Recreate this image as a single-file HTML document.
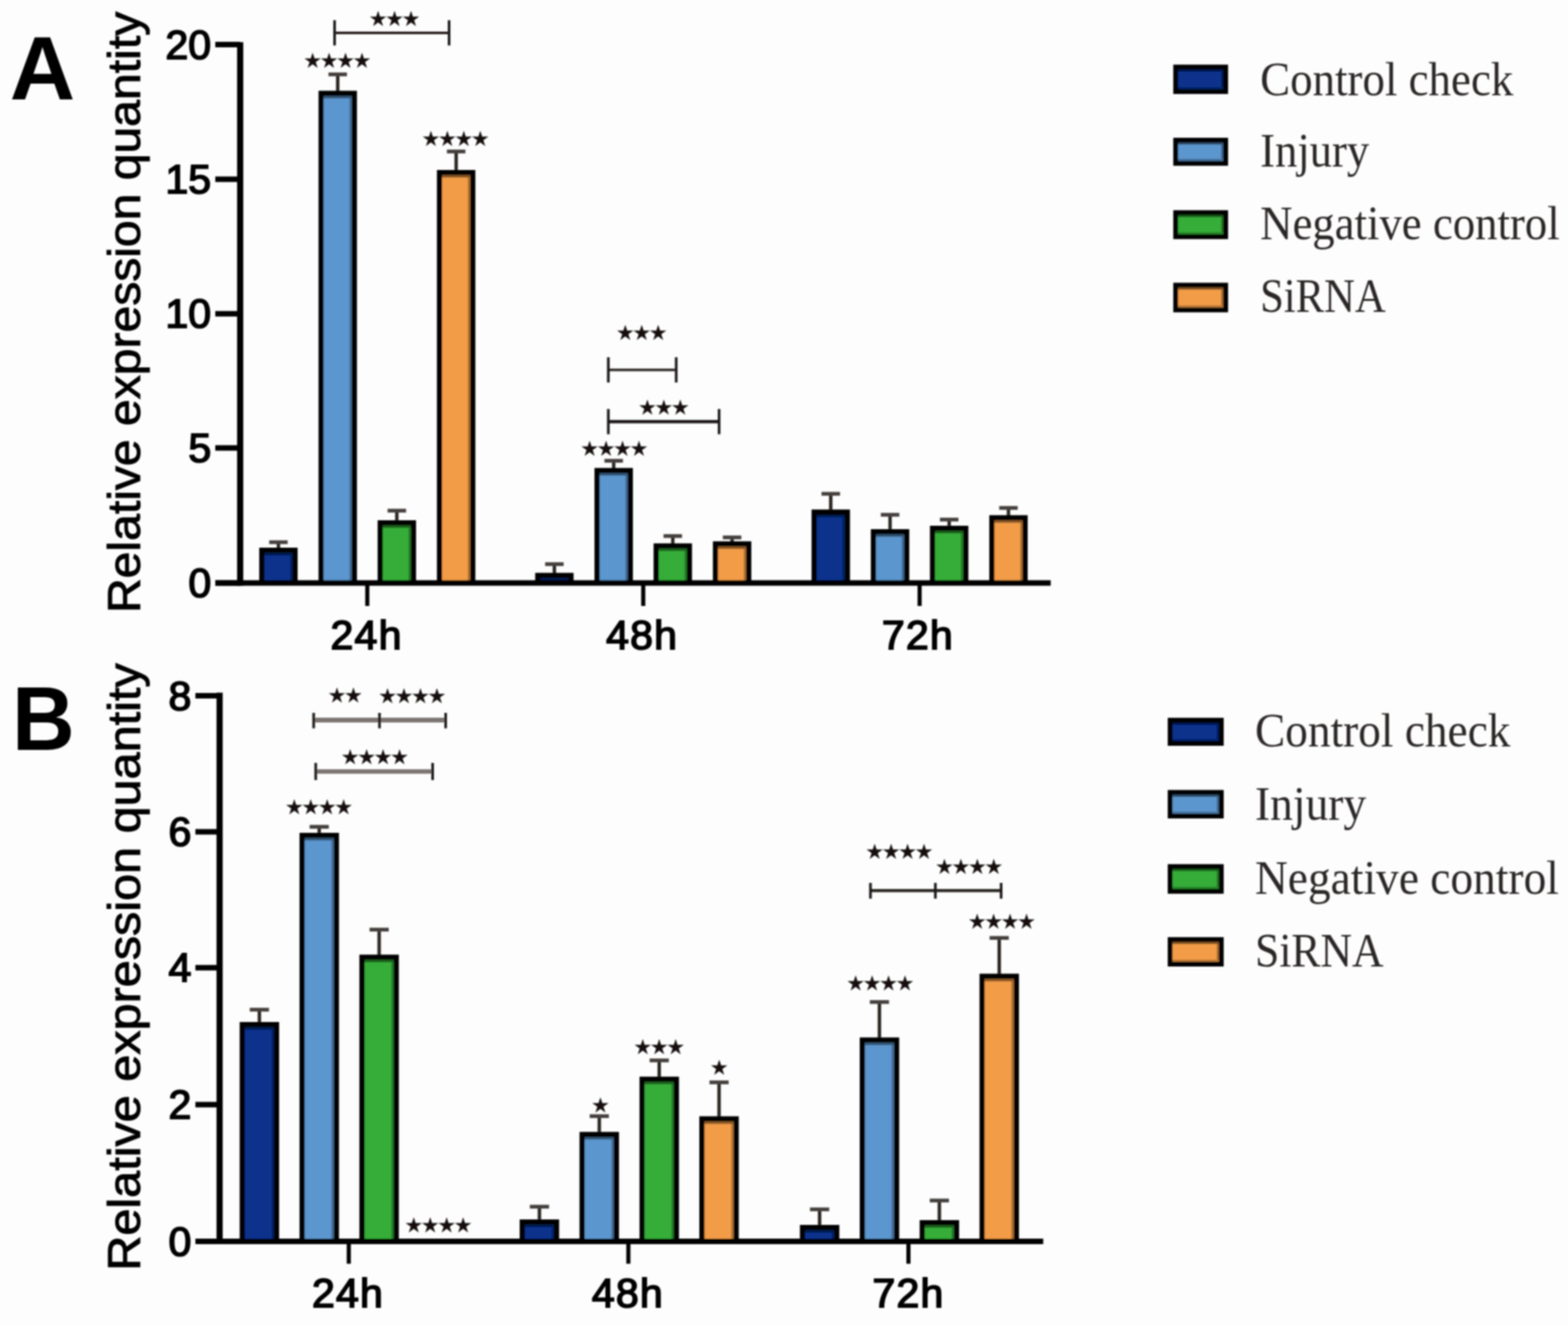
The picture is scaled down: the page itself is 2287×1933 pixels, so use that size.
<!DOCTYPE html>
<html><head><meta charset="utf-8"><title>Relative expression quantity</title>
<style>
html,body{margin:0;padding:0;background:#fdfdfd;}
svg{display:block;}
</style></head>
<body>
<svg width="2287" height="1933" viewBox="0 0 2287 1933">
<defs><filter id="bl" filterUnits="userSpaceOnUse" x="0" y="0" width="2287" height="1933"><feGaussianBlur stdDeviation="1.2"/></filter></defs>
<rect width="2287" height="1933" fill="#fdfdfd"/>
<g id="fig" filter="url(#bl)">
<line x1="350.3" y1="61.5" x2="350.3" y2="854.5" stroke="#060505" stroke-width="9.0"/>
<line x1="314" y1="850.5" x2="350" y2="850.5" stroke="#060505" stroke-width="8.0"/>
<text x="308" y="871.0" text-anchor="end" font-family="'Liberation Sans', Arial, sans-serif" font-size="60" stroke="#000" stroke-width="2.2">0</text>
<line x1="314" y1="653.6" x2="350" y2="653.6" stroke="#060505" stroke-width="8.0"/>
<text x="308" y="674.1" text-anchor="end" font-family="'Liberation Sans', Arial, sans-serif" font-size="60" stroke="#000" stroke-width="2.2">5</text>
<line x1="314" y1="457.8" x2="350" y2="457.8" stroke="#060505" stroke-width="8.0"/>
<text x="308" y="478.3" text-anchor="end" font-family="'Liberation Sans', Arial, sans-serif" font-size="60" stroke="#000" stroke-width="2.2">10</text>
<line x1="314" y1="261.5" x2="350" y2="261.5" stroke="#060505" stroke-width="8.0"/>
<text x="308" y="282.0" text-anchor="end" font-family="'Liberation Sans', Arial, sans-serif" font-size="60" stroke="#000" stroke-width="2.2">15</text>
<line x1="314" y1="65" x2="350" y2="65" stroke="#060505" stroke-width="8.0"/>
<text x="308" y="85.5" text-anchor="end" font-family="'Liberation Sans', Arial, sans-serif" font-size="60" stroke="#000" stroke-width="2.2">20</text>
<line x1="535.7" y1="850.5" x2="535.7" y2="884" stroke="#060505" stroke-width="6"/>
<text x="533.8" y="946.5" text-anchor="middle" font-family="'Liberation Sans', Arial, sans-serif" font-size="60" stroke="#000" stroke-width="2.2" textLength="103.4" lengthAdjust="spacing">24h</text>
<line x1="938.2" y1="850.5" x2="938.2" y2="884" stroke="#060505" stroke-width="6"/>
<text x="935.7" y="946.5" text-anchor="middle" font-family="'Liberation Sans', Arial, sans-serif" font-size="60" stroke="#000" stroke-width="2.2" textLength="103.4" lengthAdjust="spacing">48h</text>
<line x1="1341.3" y1="850.5" x2="1341.3" y2="884" stroke="#060505" stroke-width="6"/>
<text x="1337.9" y="946.5" text-anchor="middle" font-family="'Liberation Sans', Arial, sans-serif" font-size="60" stroke="#000" stroke-width="2.2" textLength="103.4" lengthAdjust="spacing">72h</text>
<line x1="406.1" y1="791" x2="406.1" y2="802" stroke="#2a2624" stroke-width="5"/>
<line x1="392.6" y1="791" x2="419.6" y2="791" stroke="#45403d" stroke-width="5.5"/>
<rect x="378.1" y="799.0" width="56.0" height="51.5" fill="#050101"/>
<rect x="385.6" y="806.5" width="41.0" height="44.0" fill="#07308C"/>
<rect x="385.6" y="806.5" width="41.0" height="3.6" fill="#000" fill-opacity="0.45"/>
<rect x="423.2" y="810.1" width="3.4" height="40.4" fill="#000" fill-opacity="0.3"/>
<line x1="492.6" y1="108.5" x2="492.6" y2="135.4" stroke="#2a2624" stroke-width="5"/>
<line x1="479.1" y1="108.5" x2="506.1" y2="108.5" stroke="#45403d" stroke-width="5.5"/>
<rect x="464.6" y="132.4" width="56.0" height="718.1" fill="#050101"/>
<rect x="472.1" y="139.9" width="41.0" height="710.6" fill="#5B96CE"/>
<rect x="472.1" y="139.9" width="41.0" height="3.6" fill="#000" fill-opacity="0.45"/>
<rect x="509.7" y="143.5" width="3.4" height="707.0" fill="#000" fill-opacity="0.3"/>
<line x1="578.8000000000001" y1="745" x2="578.8000000000001" y2="762" stroke="#2a2624" stroke-width="5"/>
<line x1="565.3000000000001" y1="745" x2="592.3000000000001" y2="745" stroke="#45403d" stroke-width="5.5"/>
<rect x="550.8" y="759.0" width="56.0" height="91.5" fill="#050101"/>
<rect x="558.3" y="766.5" width="41.0" height="84.0" fill="#34AD38"/>
<rect x="558.3" y="766.5" width="41.0" height="3.6" fill="#000" fill-opacity="0.45"/>
<rect x="595.9" y="770.1" width="3.4" height="80.4" fill="#000" fill-opacity="0.3"/>
<line x1="665.3000000000001" y1="221" x2="665.3000000000001" y2="251" stroke="#2a2624" stroke-width="5"/>
<line x1="651.8000000000001" y1="221" x2="678.8000000000001" y2="221" stroke="#45403d" stroke-width="5.5"/>
<rect x="637.3" y="248.0" width="56.0" height="602.5" fill="#050101"/>
<rect x="644.8" y="255.5" width="41.0" height="595.0" fill="#F29C46"/>
<rect x="644.8" y="255.5" width="41.0" height="3.6" fill="#000" fill-opacity="0.45"/>
<rect x="682.4" y="259.1" width="3.4" height="591.4" fill="#000" fill-opacity="0.3"/>
<line x1="808.6" y1="823" x2="808.6" y2="838.7" stroke="#2a2624" stroke-width="5"/>
<line x1="795.1" y1="823" x2="822.1" y2="823" stroke="#45403d" stroke-width="5.5"/>
<rect x="780.6" y="835.7" width="56.0" height="14.8" fill="#050101"/>
<rect x="788.1" y="843.2" width="41.0" height="7.3" fill="#07308C"/>
<rect x="788.1" y="843.2" width="41.0" height="3.6" fill="#000" fill-opacity="0.45"/>
<rect x="825.7" y="846.8" width="3.4" height="3.7" fill="#000" fill-opacity="0.3"/>
<line x1="895.1" y1="672.2" x2="895.1" y2="685.7" stroke="#2a2624" stroke-width="5"/>
<line x1="881.6" y1="672.2" x2="908.6" y2="672.2" stroke="#45403d" stroke-width="5.5"/>
<rect x="867.1" y="682.7" width="56.0" height="167.8" fill="#050101"/>
<rect x="874.6" y="690.2" width="41.0" height="160.3" fill="#5B96CE"/>
<rect x="874.6" y="690.2" width="41.0" height="3.6" fill="#000" fill-opacity="0.45"/>
<rect x="912.2" y="693.8" width="3.4" height="156.7" fill="#000" fill-opacity="0.3"/>
<line x1="981.3000000000001" y1="782" x2="981.3000000000001" y2="795.7" stroke="#2a2624" stroke-width="5"/>
<line x1="967.8000000000001" y1="782" x2="994.8000000000001" y2="782" stroke="#45403d" stroke-width="5.5"/>
<rect x="953.3" y="792.7" width="56.0" height="57.8" fill="#050101"/>
<rect x="960.8" y="800.2" width="41.0" height="50.3" fill="#34AD38"/>
<rect x="960.8" y="800.2" width="41.0" height="3.6" fill="#000" fill-opacity="0.45"/>
<rect x="998.4" y="803.8" width="3.4" height="46.7" fill="#000" fill-opacity="0.3"/>
<line x1="1067.8" y1="784" x2="1067.8" y2="792.7" stroke="#2a2624" stroke-width="5"/>
<line x1="1054.3" y1="784" x2="1081.3" y2="784" stroke="#45403d" stroke-width="5.5"/>
<rect x="1039.8" y="789.7" width="56.0" height="60.8" fill="#050101"/>
<rect x="1047.3" y="797.2" width="41.0" height="53.3" fill="#F29C46"/>
<rect x="1047.3" y="797.2" width="41.0" height="3.6" fill="#000" fill-opacity="0.45"/>
<rect x="1084.9" y="800.8" width="3.4" height="49.7" fill="#000" fill-opacity="0.3"/>
<line x1="1211.7" y1="720.4" x2="1211.7" y2="746.3" stroke="#2a2624" stroke-width="5"/>
<line x1="1198.2" y1="720.4" x2="1225.2" y2="720.4" stroke="#45403d" stroke-width="5.5"/>
<rect x="1183.7" y="743.3" width="56.0" height="107.2" fill="#050101"/>
<rect x="1191.2" y="750.8" width="41.0" height="99.7" fill="#07308C"/>
<rect x="1191.2" y="750.8" width="41.0" height="3.6" fill="#000" fill-opacity="0.45"/>
<rect x="1228.8" y="754.4" width="3.4" height="96.1" fill="#000" fill-opacity="0.3"/>
<line x1="1298.2" y1="751" x2="1298.2" y2="775" stroke="#2a2624" stroke-width="5"/>
<line x1="1284.7" y1="751" x2="1311.7" y2="751" stroke="#45403d" stroke-width="5.5"/>
<rect x="1270.2" y="772.0" width="56.0" height="78.5" fill="#050101"/>
<rect x="1277.7" y="779.5" width="41.0" height="71.0" fill="#5B96CE"/>
<rect x="1277.7" y="779.5" width="41.0" height="3.6" fill="#000" fill-opacity="0.45"/>
<rect x="1315.3" y="783.1" width="3.4" height="67.4" fill="#000" fill-opacity="0.3"/>
<line x1="1384.3999999999999" y1="758" x2="1384.3999999999999" y2="770" stroke="#2a2624" stroke-width="5"/>
<line x1="1370.8999999999999" y1="758" x2="1397.8999999999999" y2="758" stroke="#45403d" stroke-width="5.5"/>
<rect x="1356.4" y="767.0" width="56.0" height="83.5" fill="#050101"/>
<rect x="1363.9" y="774.5" width="41.0" height="76.0" fill="#34AD38"/>
<rect x="1363.9" y="774.5" width="41.0" height="3.6" fill="#000" fill-opacity="0.45"/>
<rect x="1401.5" y="778.1" width="3.4" height="72.4" fill="#000" fill-opacity="0.3"/>
<line x1="1470.8999999999999" y1="741" x2="1470.8999999999999" y2="754.6" stroke="#2a2624" stroke-width="5"/>
<line x1="1457.3999999999999" y1="741" x2="1484.3999999999999" y2="741" stroke="#45403d" stroke-width="5.5"/>
<rect x="1442.9" y="751.6" width="56.0" height="98.9" fill="#050101"/>
<rect x="1450.4" y="759.1" width="41.0" height="91.4" fill="#F29C46"/>
<rect x="1450.4" y="759.1" width="41.0" height="3.6" fill="#000" fill-opacity="0.45"/>
<rect x="1488.0" y="762.7" width="3.4" height="87.8" fill="#000" fill-opacity="0.3"/>
<line x1="314" y1="850.5" x2="1532.5" y2="850.5" stroke="#060505" stroke-width="8.0"/>
<line x1="488" y1="48" x2="655" y2="48" stroke="#1a1616" stroke-width="3.6"/>
<line x1="488" y1="29.5" x2="488" y2="66.3" stroke="#1a1616" stroke-width="3.8"/>
<line x1="655" y1="29.5" x2="655" y2="66.3" stroke="#1a1616" stroke-width="3.8"/>
<line x1="887.3" y1="539.6" x2="986.3" y2="539.6" stroke="#2e2a28" stroke-width="3.8"/>
<line x1="887.3" y1="521.2" x2="887.3" y2="558" stroke="#1a1616" stroke-width="3.8"/>
<line x1="986.3" y1="521.2" x2="986.3" y2="558" stroke="#1a1616" stroke-width="3.8"/>
<line x1="887.3" y1="615.1" x2="1048.8" y2="615.1" stroke="#1a1616" stroke-width="4.6"/>
<line x1="887.3" y1="596.7" x2="887.3" y2="633.5" stroke="#1a1616" stroke-width="3.8"/>
<line x1="1048.8" y1="596.7" x2="1048.8" y2="633.5" stroke="#1a1616" stroke-width="3.8"/>
<text x="491.5" y="96.5" text-anchor="middle" font-family="'Noto Sans CJK SC', 'DejaVu Sans', sans-serif" font-size="25" letter-spacing="-1" fill="#141010">★★★★</text>
<text x="664.0" y="211.4" text-anchor="middle" font-family="'Noto Sans CJK SC', 'DejaVu Sans', sans-serif" font-size="25" letter-spacing="-1" fill="#141010">★★★★</text>
<text x="575.0" y="35.5" text-anchor="middle" font-family="'Noto Sans CJK SC', 'DejaVu Sans', sans-serif" font-size="25" letter-spacing="-1" fill="#141010">★★★</text>
<text x="895.6" y="662.9" text-anchor="middle" font-family="'Noto Sans CJK SC', 'DejaVu Sans', sans-serif" font-size="25" letter-spacing="-1" fill="#141010">★★★★</text>
<text x="935.5" y="494.4" text-anchor="middle" font-family="'Noto Sans CJK SC', 'DejaVu Sans', sans-serif" font-size="25" letter-spacing="-1" fill="#141010">★★★</text>
<text x="967.8" y="602.9" text-anchor="middle" font-family="'Noto Sans CJK SC', 'DejaVu Sans', sans-serif" font-size="25" letter-spacing="-1" fill="#141010">★★★</text>
<rect x="1714.8" y="97.8" width="72.9" height="35.8" fill="#07308C" stroke="#060505" stroke-width="7"/>
<rect x="1718.3" y="101.3" width="65.9" height="3" fill="#000" fill-opacity="0.5"/>
<rect x="1718.3" y="127.1" width="65.9" height="3" fill="#000" fill-opacity="0.25"/>
<rect x="1781.2" y="104.3" width="3" height="22.8" fill="#000" fill-opacity="0.35"/>
<text x="1838" y="138.5" font-family="'Liberation Serif', 'Times New Roman', serif" font-size="69" fill="#2c2826" textLength="369.2" lengthAdjust="spacingAndGlyphs">Control check</text>
<rect x="1714.8" y="204.5" width="72.9" height="33.8" fill="#5B96CE" stroke="#060505" stroke-width="7"/>
<rect x="1718.3" y="208.0" width="65.9" height="3" fill="#000" fill-opacity="0.5"/>
<rect x="1718.3" y="231.8" width="65.9" height="3" fill="#000" fill-opacity="0.25"/>
<rect x="1781.2" y="211.0" width="3" height="20.8" fill="#000" fill-opacity="0.35"/>
<text x="1838" y="243" font-family="'Liberation Serif', 'Times New Roman', serif" font-size="69" fill="#2c2826" textLength="158.9" lengthAdjust="spacingAndGlyphs">Injury</text>
<rect x="1714.8" y="310.2" width="72.9" height="35.1" fill="#34AD38" stroke="#060505" stroke-width="7"/>
<rect x="1718.3" y="313.7" width="65.9" height="3" fill="#000" fill-opacity="0.5"/>
<rect x="1718.3" y="338.8" width="65.9" height="3" fill="#000" fill-opacity="0.25"/>
<rect x="1781.2" y="316.7" width="3" height="22.1" fill="#000" fill-opacity="0.35"/>
<text x="1838" y="349.4" font-family="'Liberation Serif', 'Times New Roman', serif" font-size="69" fill="#2c2826" textLength="436.8" lengthAdjust="spacingAndGlyphs">Negative control</text>
<rect x="1714.8" y="416.0" width="72.9" height="36.1" fill="#F29C46" stroke="#060505" stroke-width="7"/>
<rect x="1718.3" y="419.5" width="65.9" height="3" fill="#000" fill-opacity="0.5"/>
<rect x="1718.3" y="445.6" width="65.9" height="3" fill="#000" fill-opacity="0.25"/>
<rect x="1781.2" y="422.5" width="3" height="23.1" fill="#000" fill-opacity="0.35"/>
<text x="1838" y="455" font-family="'Liberation Serif', 'Times New Roman', serif" font-size="69" fill="#2c2826" textLength="183.1" lengthAdjust="spacingAndGlyphs">SiRNA</text>
<text transform="rotate(-90)" x="-894.3" y="203.5" font-family="'Liberation Sans', Arial, sans-serif" font-size="67.5" stroke="#000" stroke-width="1.3" textLength="877" lengthAdjust="spacingAndGlyphs">Relative expression quantity</text>
<text x="14.3" y="144.8" font-family="'Liberation Sans', Arial, sans-serif" font-weight="bold" font-size="132">A</text>
<line x1="320.3" y1="1010.5" x2="320.3" y2="1815.0" stroke="#060505" stroke-width="9.0"/>
<line x1="285" y1="1811" x2="320" y2="1811" stroke="#060505" stroke-width="8.0"/>
<text x="279" y="1831.5" text-anchor="end" font-family="'Liberation Sans', Arial, sans-serif" font-size="60" stroke="#000" stroke-width="2.2">0</text>
<line x1="285" y1="1611.4" x2="320" y2="1611.4" stroke="#060505" stroke-width="8.0"/>
<text x="279" y="1631.9" text-anchor="end" font-family="'Liberation Sans', Arial, sans-serif" font-size="60" stroke="#000" stroke-width="2.2">2</text>
<line x1="285" y1="1411.8" x2="320" y2="1411.8" stroke="#060505" stroke-width="8.0"/>
<text x="279" y="1432.3" text-anchor="end" font-family="'Liberation Sans', Arial, sans-serif" font-size="60" stroke="#000" stroke-width="2.2">4</text>
<line x1="285" y1="1213.4" x2="320" y2="1213.4" stroke="#060505" stroke-width="8.0"/>
<text x="279" y="1233.9" text-anchor="end" font-family="'Liberation Sans', Arial, sans-serif" font-size="60" stroke="#000" stroke-width="2.2">6</text>
<line x1="285" y1="1015" x2="320" y2="1015" stroke="#060505" stroke-width="8.0"/>
<text x="279" y="1035.5" text-anchor="end" font-family="'Liberation Sans', Arial, sans-serif" font-size="60" stroke="#000" stroke-width="2.2">8</text>
<line x1="508.7" y1="1811" x2="508.7" y2="1843.6" stroke="#060505" stroke-width="6"/>
<text x="506.7" y="1907" text-anchor="middle" font-family="'Liberation Sans', Arial, sans-serif" font-size="60" stroke="#000" stroke-width="2.2" textLength="103.4" lengthAdjust="spacing">24h</text>
<line x1="916.5" y1="1811" x2="916.5" y2="1843.6" stroke="#060505" stroke-width="6"/>
<text x="915" y="1907" text-anchor="middle" font-family="'Liberation Sans', Arial, sans-serif" font-size="60" stroke="#000" stroke-width="2.2" textLength="103.4" lengthAdjust="spacing">48h</text>
<line x1="1325" y1="1811" x2="1325" y2="1843.6" stroke="#060505" stroke-width="6"/>
<text x="1324.2" y="1907" text-anchor="middle" font-family="'Liberation Sans', Arial, sans-serif" font-size="60" stroke="#000" stroke-width="2.2" textLength="103.4" lengthAdjust="spacing">72h</text>
<line x1="378.3" y1="1473" x2="378.3" y2="1494" stroke="#2a2624" stroke-width="5"/>
<line x1="364.3" y1="1473" x2="392.3" y2="1473" stroke="#45403d" stroke-width="5.5"/>
<rect x="349.6" y="1491.0" width="57.5" height="320.0" fill="#050101"/>
<rect x="357.1" y="1498.5" width="42.5" height="312.5" fill="#07308C"/>
<rect x="357.1" y="1498.5" width="42.5" height="3.6" fill="#000" fill-opacity="0.45"/>
<rect x="396.2" y="1502.1" width="3.4" height="308.9" fill="#000" fill-opacity="0.3"/>
<line x1="465.6" y1="1206.2" x2="465.6" y2="1218" stroke="#2a2624" stroke-width="5"/>
<line x1="451.6" y1="1206.2" x2="479.6" y2="1206.2" stroke="#45403d" stroke-width="5.5"/>
<rect x="436.9" y="1215.0" width="57.5" height="596.0" fill="#050101"/>
<rect x="444.4" y="1222.5" width="42.5" height="588.5" fill="#5B96CE"/>
<rect x="444.4" y="1222.5" width="42.5" height="3.6" fill="#000" fill-opacity="0.45"/>
<rect x="483.5" y="1226.1" width="3.4" height="584.9" fill="#000" fill-opacity="0.3"/>
<line x1="553.0" y1="1356.2" x2="553.0" y2="1395.7" stroke="#2a2624" stroke-width="5"/>
<line x1="539.0" y1="1356.2" x2="567.0" y2="1356.2" stroke="#45403d" stroke-width="5.5"/>
<rect x="524.2" y="1392.7" width="57.5" height="418.3" fill="#050101"/>
<rect x="531.8" y="1400.2" width="42.5" height="410.8" fill="#34AD38"/>
<rect x="531.8" y="1400.2" width="42.5" height="3.6" fill="#000" fill-opacity="0.45"/>
<rect x="570.9" y="1403.8" width="3.4" height="407.2" fill="#000" fill-opacity="0.3"/>
<line x1="786.8" y1="1760.4" x2="786.8" y2="1782" stroke="#2a2624" stroke-width="5"/>
<line x1="772.8" y1="1760.4" x2="800.8" y2="1760.4" stroke="#45403d" stroke-width="5.5"/>
<rect x="758.0" y="1779.0" width="57.5" height="32.0" fill="#050101"/>
<rect x="765.5" y="1786.5" width="42.5" height="24.5" fill="#07308C"/>
<rect x="765.5" y="1786.5" width="42.5" height="3.6" fill="#000" fill-opacity="0.45"/>
<rect x="804.6" y="1790.1" width="3.4" height="20.9" fill="#000" fill-opacity="0.3"/>
<line x1="874.0999999999999" y1="1628.3" x2="874.0999999999999" y2="1654.3" stroke="#2a2624" stroke-width="5"/>
<line x1="860.0999999999999" y1="1628.3" x2="888.0999999999999" y2="1628.3" stroke="#45403d" stroke-width="5.5"/>
<rect x="845.3" y="1651.3" width="57.5" height="159.7" fill="#050101"/>
<rect x="852.8" y="1658.8" width="42.5" height="152.2" fill="#5B96CE"/>
<rect x="852.8" y="1658.8" width="42.5" height="3.6" fill="#000" fill-opacity="0.45"/>
<rect x="891.9" y="1662.4" width="3.4" height="148.6" fill="#000" fill-opacity="0.3"/>
<line x1="961.5" y1="1547" x2="961.5" y2="1573.7" stroke="#2a2624" stroke-width="5"/>
<line x1="947.5" y1="1547" x2="975.5" y2="1547" stroke="#45403d" stroke-width="5.5"/>
<rect x="932.8" y="1570.7" width="57.5" height="240.3" fill="#050101"/>
<rect x="940.2" y="1578.2" width="42.5" height="232.8" fill="#34AD38"/>
<rect x="940.2" y="1578.2" width="42.5" height="3.6" fill="#000" fill-opacity="0.45"/>
<rect x="979.4" y="1581.8" width="3.4" height="229.2" fill="#000" fill-opacity="0.3"/>
<line x1="1048.8" y1="1579" x2="1048.8" y2="1631.5" stroke="#2a2624" stroke-width="5"/>
<line x1="1034.8" y1="1579" x2="1062.8" y2="1579" stroke="#45403d" stroke-width="5.5"/>
<rect x="1020.0" y="1628.5" width="57.5" height="182.5" fill="#050101"/>
<rect x="1027.5" y="1636.0" width="42.5" height="175.0" fill="#F29C46"/>
<rect x="1027.5" y="1636.0" width="42.5" height="3.6" fill="#000" fill-opacity="0.45"/>
<rect x="1066.6" y="1639.6" width="3.4" height="171.4" fill="#000" fill-opacity="0.3"/>
<line x1="1195.4" y1="1764.3" x2="1195.4" y2="1790" stroke="#2a2624" stroke-width="5"/>
<line x1="1181.4" y1="1764.3" x2="1209.4" y2="1764.3" stroke="#45403d" stroke-width="5.5"/>
<rect x="1166.7" y="1787.0" width="57.5" height="24.0" fill="#050101"/>
<rect x="1174.2" y="1794.5" width="42.5" height="16.5" fill="#07308C"/>
<rect x="1174.2" y="1794.5" width="42.5" height="3.6" fill="#000" fill-opacity="0.45"/>
<rect x="1213.2" y="1798.1" width="3.4" height="12.9" fill="#000" fill-opacity="0.3"/>
<line x1="1282.7" y1="1461.8" x2="1282.7" y2="1516.5" stroke="#2a2624" stroke-width="5"/>
<line x1="1268.7" y1="1461.8" x2="1296.7" y2="1461.8" stroke="#45403d" stroke-width="5.5"/>
<rect x="1254.0" y="1513.5" width="57.5" height="297.5" fill="#050101"/>
<rect x="1261.5" y="1521.0" width="42.5" height="290.0" fill="#5B96CE"/>
<rect x="1261.5" y="1521.0" width="42.5" height="3.6" fill="#000" fill-opacity="0.45"/>
<rect x="1300.5" y="1524.6" width="3.4" height="286.4" fill="#000" fill-opacity="0.3"/>
<line x1="1370.1000000000001" y1="1751.4" x2="1370.1000000000001" y2="1783" stroke="#2a2624" stroke-width="5"/>
<line x1="1356.1000000000001" y1="1751.4" x2="1384.1000000000001" y2="1751.4" stroke="#45403d" stroke-width="5.5"/>
<rect x="1341.4" y="1780.0" width="57.5" height="31.0" fill="#050101"/>
<rect x="1348.9" y="1787.5" width="42.5" height="23.5" fill="#34AD38"/>
<rect x="1348.9" y="1787.5" width="42.5" height="3.6" fill="#000" fill-opacity="0.45"/>
<rect x="1388.0" y="1791.1" width="3.4" height="19.9" fill="#000" fill-opacity="0.3"/>
<line x1="1457.4" y1="1368.3" x2="1457.4" y2="1423.5" stroke="#2a2624" stroke-width="5"/>
<line x1="1443.4" y1="1368.3" x2="1471.4" y2="1368.3" stroke="#45403d" stroke-width="5.5"/>
<rect x="1428.7" y="1420.5" width="57.5" height="390.5" fill="#050101"/>
<rect x="1436.2" y="1428.0" width="42.5" height="383.0" fill="#F29C46"/>
<rect x="1436.2" y="1428.0" width="42.5" height="3.6" fill="#000" fill-opacity="0.45"/>
<rect x="1475.2" y="1431.6" width="3.4" height="379.4" fill="#000" fill-opacity="0.3"/>
<line x1="285" y1="1811" x2="1521.6" y2="1811" stroke="#060505" stroke-width="8.0"/>
<line x1="457.5" y1="1050.5" x2="650" y2="1050.5" stroke="#7c7672" stroke-width="7"/>
<line x1="457.5" y1="1040" x2="457.5" y2="1062.5" stroke="#1a1616" stroke-width="3.8"/>
<line x1="553.5" y1="1040" x2="553.5" y2="1062.5" stroke="#1a1616" stroke-width="3.8"/>
<line x1="650" y1="1040" x2="650" y2="1062.5" stroke="#1a1616" stroke-width="3.8"/>
<line x1="460.5" y1="1125.5" x2="631" y2="1125.5" stroke="#7c7672" stroke-width="6.5"/>
<line x1="460.5" y1="1113" x2="460.5" y2="1138" stroke="#1a1616" stroke-width="3.8"/>
<line x1="631" y1="1113" x2="631" y2="1138" stroke="#1a1616" stroke-width="3.8"/>
<line x1="1269.6" y1="1299.2" x2="1460.2" y2="1299.2" stroke="#2a2624" stroke-width="4.6"/>
<line x1="1269.6" y1="1288" x2="1269.6" y2="1311" stroke="#1a1616" stroke-width="3.8"/>
<line x1="1364.3" y1="1288" x2="1364.3" y2="1311" stroke="#1a1616" stroke-width="3.8"/>
<line x1="1460.2" y1="1288" x2="1460.2" y2="1311" stroke="#1a1616" stroke-width="3.8"/>
<text x="464.8" y="1185.6" text-anchor="middle" font-family="'Noto Sans CJK SC', 'DejaVu Sans', sans-serif" font-size="25" letter-spacing="-1" fill="#141010">★★★★</text>
<text x="639.0" y="1795.7" text-anchor="middle" font-family="'Noto Sans CJK SC', 'DejaVu Sans', sans-serif" font-size="25" letter-spacing="-1" fill="#141010">★★★★</text>
<text x="502.9" y="1022.9" text-anchor="middle" font-family="'Noto Sans CJK SC', 'DejaVu Sans', sans-serif" font-size="25" letter-spacing="-1" fill="#141010">★★</text>
<text x="600.8" y="1023.5" text-anchor="middle" font-family="'Noto Sans CJK SC', 'DejaVu Sans', sans-serif" font-size="25" letter-spacing="-1" fill="#141010">★★★★</text>
<text x="546.2" y="1112.5" text-anchor="middle" font-family="'Noto Sans CJK SC', 'DejaVu Sans', sans-serif" font-size="25" letter-spacing="-1" fill="#141010">★★★★</text>
<text x="875.2" y="1621.1" text-anchor="middle" font-family="'Noto Sans CJK SC', 'DejaVu Sans', sans-serif" font-size="25" letter-spacing="-1" fill="#141010">★</text>
<text x="961.0" y="1535.5" text-anchor="middle" font-family="'Noto Sans CJK SC', 'DejaVu Sans', sans-serif" font-size="25" letter-spacing="-1" fill="#141010">★★★</text>
<text x="1048.5" y="1565.8" text-anchor="middle" font-family="'Noto Sans CJK SC', 'DejaVu Sans', sans-serif" font-size="25" letter-spacing="-1" fill="#141010">★</text>
<text x="1283.6" y="1443.1" text-anchor="middle" font-family="'Noto Sans CJK SC', 'DejaVu Sans', sans-serif" font-size="25" letter-spacing="-1" fill="#141010">★★★★</text>
<text x="1460.8" y="1353.1" text-anchor="middle" font-family="'Noto Sans CJK SC', 'DejaVu Sans', sans-serif" font-size="25" letter-spacing="-1" fill="#141010">★★★★</text>
<text x="1311.3" y="1251.3" text-anchor="middle" font-family="'Noto Sans CJK SC', 'DejaVu Sans', sans-serif" font-size="25" letter-spacing="-1" fill="#141010">★★★★</text>
<text x="1413.1" y="1272.7" text-anchor="middle" font-family="'Noto Sans CJK SC', 'DejaVu Sans', sans-serif" font-size="25" letter-spacing="-1" fill="#141010">★★★★</text>
<rect x="1706.7" y="1050.7" width="74.6" height="33.8" fill="#07308C" stroke="#060505" stroke-width="7"/>
<rect x="1710.2" y="1054.2" width="67.6" height="3" fill="#000" fill-opacity="0.5"/>
<rect x="1710.2" y="1078.0" width="67.6" height="3" fill="#000" fill-opacity="0.25"/>
<rect x="1774.8" y="1057.2" width="3" height="20.8" fill="#000" fill-opacity="0.35"/>
<text x="1830.5" y="1089" font-family="'Liberation Serif', 'Times New Roman', serif" font-size="69.5" fill="#2c2826" textLength="372.6" lengthAdjust="spacingAndGlyphs">Control check</text>
<rect x="1706.7" y="1156.0" width="74.6" height="34.5" fill="#5B96CE" stroke="#060505" stroke-width="7"/>
<rect x="1710.2" y="1159.5" width="67.6" height="3" fill="#000" fill-opacity="0.5"/>
<rect x="1710.2" y="1184.0" width="67.6" height="3" fill="#000" fill-opacity="0.25"/>
<rect x="1774.8" y="1162.5" width="3" height="21.5" fill="#000" fill-opacity="0.35"/>
<text x="1830.5" y="1196" font-family="'Liberation Serif', 'Times New Roman', serif" font-size="69.5" fill="#2c2826" textLength="162.1" lengthAdjust="spacingAndGlyphs">Injury</text>
<rect x="1706.7" y="1264.2" width="74.6" height="36.1" fill="#34AD38" stroke="#060505" stroke-width="7"/>
<rect x="1710.2" y="1267.7" width="67.6" height="3" fill="#000" fill-opacity="0.5"/>
<rect x="1710.2" y="1293.8" width="67.6" height="3" fill="#000" fill-opacity="0.25"/>
<rect x="1774.8" y="1270.7" width="3" height="23.1" fill="#000" fill-opacity="0.35"/>
<text x="1830.5" y="1303.8" font-family="'Liberation Serif', 'Times New Roman', serif" font-size="69.5" fill="#2c2826" textLength="443.2" lengthAdjust="spacingAndGlyphs">Negative control</text>
<rect x="1706.7" y="1370.7" width="74.6" height="35.8" fill="#F29C46" stroke="#060505" stroke-width="7"/>
<rect x="1710.2" y="1374.2" width="67.6" height="3" fill="#000" fill-opacity="0.5"/>
<rect x="1710.2" y="1400.0" width="67.6" height="3" fill="#000" fill-opacity="0.25"/>
<rect x="1774.8" y="1377.2" width="3" height="22.8" fill="#000" fill-opacity="0.35"/>
<text x="1830.5" y="1410" font-family="'Liberation Serif', 'Times New Roman', serif" font-size="69.5" fill="#2c2826" textLength="187.5" lengthAdjust="spacingAndGlyphs">SiRNA</text>
<text transform="rotate(-90)" x="-1853.7" y="204" font-family="'Liberation Sans', Arial, sans-serif" font-size="66" stroke="#000" stroke-width="1.3" textLength="886" lengthAdjust="spacingAndGlyphs">Relative expression quantity</text>
<text x="17.6" y="1094" font-family="'Liberation Sans', Arial, sans-serif" font-weight="bold" font-size="132" textLength="91.5" lengthAdjust="spacingAndGlyphs">B</text>
</g>
</svg>
</body></html>
